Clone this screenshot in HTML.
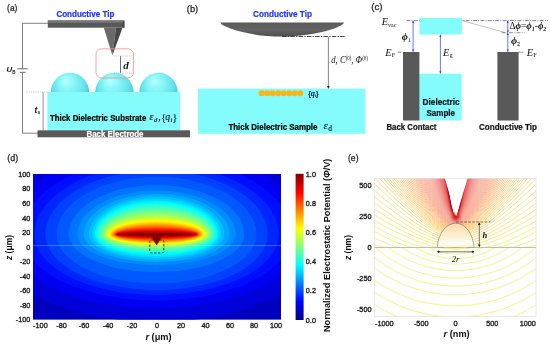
<!DOCTYPE html>
<html><head><meta charset="utf-8"><title>Figure</title>
<style>
html,body{margin:0;padding:0;background:#fff;}
svg{display:block}
.ss{font-family:'Liberation Sans', sans-serif;}
.sf{font-family:'Liberation Serif', serif;}
</style></head><body>
<svg width="550" height="345" viewBox="0 0 550 345">
<defs>
<radialGradient id="sph" cx="0.5" cy="0.35" r="0.6" fx="0.38" fy="0.2">
<stop offset="0" stop-color="#b8ffff"/><stop offset="0.35" stop-color="#86f6f8"/><stop offset="0.7" stop-color="#62e2e8"/><stop offset="0.92" stop-color="#46c6d0"/><stop offset="1" stop-color="#3cb6c1"/>
</radialGradient>
<linearGradient id="tipg" x1="0" y1="0" x2="0" y2="1"><stop offset="0" stop-color="#5a5a5a"/><stop offset="0.5" stop-color="#636363"/><stop offset="1" stop-color="#4e4e4e"/></linearGradient>
<linearGradient id="jetg" x1="0" y1="1" x2="0" y2="0">
<stop offset="0.000" stop-color="#000080"/><stop offset="0.062" stop-color="#0000bf"/><stop offset="0.125" stop-color="#0000ff"/><stop offset="0.188" stop-color="#0040ff"/><stop offset="0.250" stop-color="#0080ff"/><stop offset="0.312" stop-color="#00bfff"/><stop offset="0.375" stop-color="#00ffff"/><stop offset="0.438" stop-color="#40ffbf"/><stop offset="0.500" stop-color="#80ff80"/><stop offset="0.562" stop-color="#bfff40"/><stop offset="0.625" stop-color="#ffff00"/><stop offset="0.688" stop-color="#ffbf00"/><stop offset="0.750" stop-color="#ff8000"/><stop offset="0.812" stop-color="#ff4000"/><stop offset="0.875" stop-color="#ff0000"/><stop offset="0.938" stop-color="#bf0000"/><stop offset="1.000" stop-color="#800000"/>
</linearGradient>
<radialGradient id="apg" cx="0.5" cy="0.5" r="0.5"><stop offset="0" stop-color="#cc141c" stop-opacity="1"/><stop offset="0.35" stop-color="#d82828" stop-opacity="0.75"/><stop offset="0.7" stop-color="#e65050" stop-opacity="0.3"/><stop offset="1" stop-color="#ee7070" stop-opacity="0"/></radialGradient>
<linearGradient id="npg" x1="0" y1="0" x2="0" y2="1">
<stop offset="0" stop-color="#ffd9b0"/><stop offset="0.55" stop-color="#fff0cf"/><stop offset="0.85" stop-color="#ffffff"/><stop offset="1" stop-color="#fffbe0"/>
</linearGradient>
<clipPath id="cebelow"><rect x="374.5" y="247.5" width="161.5" height="69.1"/></clipPath>
</defs>
<rect width="550" height="345" fill="#fff"/>
<text class="ss" x="7.1" y="11.2" font-size="9.6" font-weight="normal" font-style="normal" fill="#1a1a1a" textLength="10.3" lengthAdjust="spacingAndGlyphs" stroke="#1a1a1a" stroke-width="0.25">(a)</text>
<text class="ss" x="56.4" y="17.3" font-size="9.2" font-weight="bold" font-style="normal" fill="#1a36ff" textLength="57.9" lengthAdjust="spacingAndGlyphs" stroke="#1a36ff" stroke-width="0.22">Conductive Tip</text>
<path d="M48.5 23.3H22.5V68.8M22.5 72.3V133.2H38" fill="none" stroke="#6a6a6a" stroke-width="0.85"/>
<path d="M17.4 68.8H27.8M19.7 72.3H25.8" fill="none" stroke="#5a5a5a" stroke-width="0.9"/>
<rect x="47.8" y="20.4" width="76.6" height="7.3" fill="#585858"/>
<path d="M47.8 20.4H124.4L122.6 22.7H47.8Z" fill="#787878"/>
<path d="M124.4 20.4V27.7H122.6V22.7Z" fill="#444"/>
<path d="M103.8 27.7H116L112.4 55.6Z" fill="#6a6a6a"/>
<path d="M116 27.7H122.5L112.4 55.6Z" fill="#474747"/>
<circle cx="70" cy="92" r="19.2" fill="url(#sph)"/>
<circle cx="114.4" cy="92" r="19.2" fill="url(#sph)"/>
<circle cx="158.5" cy="92" r="19.2" fill="url(#sph)"/>
<rect x="96" y="48.8" width="37.4" height="29.2" rx="5.5" ry="5.5" fill="none" stroke="#f48a8a" stroke-width="0.8"/>
<path d="M113.6 56H133M113.6 73H133" fill="none" stroke="#b5b5b5" stroke-width="0.7" stroke-dasharray="1.2 1"/>
<path d="M120.5 56.2V72.8" fill="none" stroke="#333" stroke-width="0.7"/>
<text class="sf" x="123.3" y="69.4" font-size="11" font-weight="bold" font-style="italic" fill="#111">d</text>
<rect x="47.4" y="92" width="132.8" height="38.5" fill="#84fcfc"/>
<rect x="37.5" y="130.3" width="152.5" height="7" fill="#595959"/>
<text class="ss" x="86.5" y="136.6" font-size="8.6" font-weight="bold" font-style="normal" fill="#fff" textLength="57.0" lengthAdjust="spacingAndGlyphs" stroke="#fff" stroke-width="0.22">Back Electrode</text>
<path d="M26.5 92H47.4" fill="none" stroke="#b0b0b0" stroke-width="0.7" stroke-dasharray="1.2 1"/>
<path d="M43.1 92.2V130.3" fill="none" stroke="#444" stroke-width="0.6"/>
<text class="ss" x="34.6" y="113" font-size="8.6" font-style="italic" font-weight="bold" fill="#111">t<tspan font-size="5" dy="1" font-style="normal">s</tspan></text>
<text class="ss" x="6.5" y="72" font-size="7.9" font-weight="bold" font-style="italic" fill="#111">U<tspan font-size="4.6" dy="1.8" font-style="normal">B</tspan></text>
<text class="ss" x="50.0" y="120.5" font-size="9" font-weight="bold" font-style="normal" fill="#000" textLength="96.3" lengthAdjust="spacingAndGlyphs" stroke="#000" stroke-width="0.22">Thick Dielectric Substrate</text>
<text class="sf" font-size="9.8" fill="#161c36" stroke="#161c36" stroke-width="0.2"><tspan x="149.4" y="120.3" font-style="italic">ε</tspan><tspan x="154" y="122.2" font-size="6.4" font-style="italic">d</tspan><tspan x="158.2" y="120.3">,</tspan><tspan x="161.2" y="120.6">{</tspan><tspan x="165.2" y="120.3" font-style="italic">q</tspan><tspan x="170.4" y="122.2" font-size="6.4" font-style="italic">i</tspan><tspan x="172.4" y="120.6">}</tspan></text>
<text class="ss" x="186.8" y="11.5" font-size="9.6" font-weight="normal" font-style="normal" fill="#1a1a1a" textLength="11.4" lengthAdjust="spacingAndGlyphs" stroke="#1a1a1a" stroke-width="0.25">(b)</text>
<text class="ss" x="253.0" y="17.0" font-size="9.2" font-weight="bold" font-style="normal" fill="#1a36ff" textLength="59.0" lengthAdjust="spacingAndGlyphs" stroke="#1a36ff" stroke-width="0.22">Conductive Tip</text>
<path d="M220.4 22.6H344C343.9 26.5 317.4 36.6 282.2 36.6C247 36.6 220.5 26.5 220.4 22.6Z" fill="url(#tipg)"/>
<path d="M282 36.5H346" fill="none" stroke="#222" stroke-width="0.85" stroke-dasharray="4.5 1.3 1.2 1.3"/>
<path d="M328.4 36.8V88" fill="none" stroke="#333" stroke-width="0.6"/>
<path d="M327 86L328.4 89.2L329.8 86Z" fill="#333"/>
<text class="sf" x="331.3" y="63" font-size="9.3" font-style="italic" fill="#111" textLength="36.5" lengthAdjust="spacingAndGlyphs">d, C<tspan font-size="5.2" dy="-3.4" font-style="normal">(0)</tspan><tspan dy="3.4">, Φ</tspan><tspan font-size="5.2" dy="-3.4" font-style="normal">(0)</tspan></text>
<rect x="198" y="88.6" width="167.5" height="45.2" fill="#84fcfc"/>
<circle cx="261.60" cy="93.2" r="3" fill="#fbb414"/>
<circle cx="267.12" cy="93.2" r="3" fill="#fbb414"/>
<circle cx="272.64" cy="93.2" r="3" fill="#fbb414"/>
<circle cx="278.16" cy="93.2" r="3" fill="#fbb414"/>
<circle cx="283.68" cy="93.2" r="3" fill="#fbb414"/>
<circle cx="289.20" cy="93.2" r="3" fill="#fbb414"/>
<circle cx="294.72" cy="93.2" r="3" fill="#fbb414"/>
<circle cx="300.24" cy="93.2" r="3" fill="#fbb414"/>
<text class="ss" x="308.2" y="95.8" font-size="6.8" font-weight="bold" fill="#1a2238" stroke="#1a2238" stroke-width="0.15" textLength="10.4" lengthAdjust="spacingAndGlyphs">{<tspan font-style="italic">q</tspan><tspan font-size="4" dy="1.2">i</tspan><tspan dy="-1.2">}</tspan></text>
<text class="ss" x="228.4" y="129.7" font-size="9" font-weight="bold" font-style="normal" fill="#000" textLength="89.1" lengthAdjust="spacingAndGlyphs" stroke="#000" stroke-width="0.22">Thick Dielectric Sample</text>
<text class="sf" font-size="11" fill="#1a2440" stroke="#1a2440" stroke-width="0.2"><tspan x="323.6" y="129.3" font-style="italic">ε</tspan><tspan x="328.2" y="130.9" font-size="7.6">d</tspan></text>
<text class="ss" x="371.2" y="10.0" font-size="9.6" font-weight="normal" font-style="normal" fill="#1a1a1a" textLength="11.3" lengthAdjust="spacingAndGlyphs" stroke="#1a1a1a" stroke-width="0.25">(c)</text>
<path d="M406.4 20.6H548" fill="none" stroke="#333" stroke-width="0.6" stroke-dasharray="4 1.2 1 1.2"/>
<rect x="419.5" y="17.9" width="42.4" height="16.6" fill="#84fcfc"/>
<rect x="419.2" y="73.7" width="42.5" height="46.8" fill="#84fcfc"/>
<rect x="403" y="52" width="16.4" height="68.5" fill="#595959"/>
<rect x="497.4" y="52" width="21.2" height="68.5" fill="#595959"/>
<path d="M462 20.6L505 32.5" fill="none" stroke="#999" stroke-width="0.6"/>
<path d="M501.7 32.7H524.6" fill="none" stroke="#444" stroke-width="0.6" stroke-dasharray="4 1.2 1 1.2"/>
<path d="M413.1 20.8V51.8" fill="none" stroke="#2a3cff" stroke-width="0.7"/>
<path d="M412.0 49.599999999999994L413.1 51.8L414.20000000000005 49.599999999999994Z" fill="#2a3cff"/>
<path d="M412.0 23.0L413.1 20.8L414.20000000000005 23.0Z" fill="#2a3cff"/>
<path d="M440.4 34.7V73.5" fill="none" stroke="#2a3cff" stroke-width="0.7"/>
<path d="M439.29999999999995 71.3L440.4 73.5L441.5 71.3Z" fill="#2a3cff"/>
<path d="M439.29999999999995 36.900000000000006L440.4 34.7L441.5 36.900000000000006Z" fill="#2a3cff"/>
<path d="M507.8 20.8V32.5" fill="none" stroke="#2a3cff" stroke-width="0.7"/>
<path d="M506.7 30.3L507.8 32.5L508.90000000000003 30.3Z" fill="#2a3cff"/>
<path d="M506.7 23.0L507.8 20.8L508.90000000000003 23.0Z" fill="#2a3cff"/>
<path d="M507.8 32.9V51.8" fill="none" stroke="#2a3cff" stroke-width="0.7"/>
<path d="M506.7 49.599999999999994L507.8 51.8L508.90000000000003 49.599999999999994Z" fill="#2a3cff"/>
<path d="M506.7 35.1L507.8 32.9L508.90000000000003 35.1Z" fill="#2a3cff"/>
<text class="sf" x="381.7" y="24.8" font-size="10.4" font-style="italic" fill="#111">E<tspan font-size="6" dy="1.8" font-style="normal">vac</tspan></text>
<text class="sf" x="401.8" y="40.3" font-size="10.5" font-style="italic" font-weight="bold" fill="#111">ϕ<tspan font-size="6" dy="1.2" font-style="normal" font-weight="normal">1</tspan></text>
<text class="sf" x="385.3" y="55.8" font-size="10.4" font-style="italic" fill="#111">E<tspan font-size="6.4" dy="0.9" font-style="normal">F</tspan></text>
<path d="M397.6 52.2H401.4" stroke="#333" stroke-width="0.6"/>
<text class="sf" x="443.1" y="55.8" font-size="10.4" font-style="italic" fill="#111">E<tspan font-size="6.4" dy="0.9" font-style="normal">g</tspan></text>
<text class="sf" x="509.4" y="29.3" font-size="9.4" fill="#111" textLength="37" lengthAdjust="spacingAndGlyphs">Δ<tspan font-style="italic" font-weight="bold">ϕ</tspan>=<tspan font-style="italic" font-weight="bold">ϕ</tspan><tspan font-size="6" dy="1.7" font-style="italic" font-weight="bold">1</tspan><tspan dy="-1.7">-</tspan><tspan font-style="italic" font-weight="bold">ϕ</tspan><tspan font-size="6" dy="1.7" font-style="italic" font-weight="bold">2</tspan></text>
<text class="sf" x="511" y="44.4" font-size="10.5" font-style="italic" font-weight="bold" fill="#111">ϕ<tspan font-size="6" dy="1.3" font-style="normal" font-weight="bold">2</tspan></text>
<path d="M518.6 52.2H523.5" stroke="#333" stroke-width="0.6" stroke-dasharray="2 0.8"/>
<text class="sf" x="526.8" y="56.2" font-size="10.4" font-style="italic" fill="#111">E<tspan font-size="6.4" dy="0.9" font-style="normal">F</tspan></text>
<text class="ss" x="422.6" y="105.0" font-size="9" font-weight="bold" font-style="normal" fill="#10121c" textLength="37.1" lengthAdjust="spacingAndGlyphs" stroke="#10121c" stroke-width="0.22">Dielectric</text>
<text class="ss" x="426.4" y="116.4" font-size="9" font-weight="bold" font-style="normal" fill="#10121c" textLength="28.7" lengthAdjust="spacingAndGlyphs" stroke="#10121c" stroke-width="0.22">Sample</text>
<text class="ss" x="386.4" y="129.7" font-size="9" font-weight="bold" font-style="normal" fill="#111" textLength="50.0" lengthAdjust="spacingAndGlyphs" stroke="#111" stroke-width="0.22">Back Contact</text>
<text class="ss" x="479.0" y="129.7" font-size="9" font-weight="bold" font-style="normal" fill="#111" textLength="58.0" lengthAdjust="spacingAndGlyphs" stroke="#111" stroke-width="0.22">Conductive Tip</text>
<text class="ss" x="7.2" y="161.0" font-size="9.6" font-weight="normal" font-style="normal" fill="#1a1a1a" textLength="11.0" lengthAdjust="spacingAndGlyphs" stroke="#1a1a1a" stroke-width="0.25">(d)</text>
<clipPath id="cd"><rect x="33" y="173.9" width="248" height="145.6"/></clipPath>
<g clip-path="url(#cd)">
<rect x="33" y="173.9" width="248" height="145.6" fill="#0000a6"/>
<path d="M-43.4 234.4A200.0 115.0 0 0 1 356.6 234.4A200.0 110.0 0 0 1 -43.4 234.4Z" fill="#0000bf"/>
<path d="M-12.6 234.4A169.2 96.5 0 0 1 325.8 234.4A169.2 87.7 0 0 1 -12.6 234.4Z" fill="#0000d9"/>
<path d="M6.6 234.4A150.0 85.0 0 0 1 306.6 234.4A150.0 74.0 0 0 1 6.6 234.4Z" fill="#0000f2"/>
<path d="M21.9 234.4A134.7 76.5 0 0 1 291.3 234.4A134.7 66.1 0 0 1 21.9 234.4Z" fill="#000dff"/>
<path d="M34.4 234.4A122.2 69.9 0 0 1 278.8 234.4A122.2 60.6 0 0 1 34.4 234.4Z" fill="#0026ff"/>
<path d="M45.4 234.4A111.2 64.0 0 0 1 267.8 234.4A111.2 55.6 0 0 1 45.4 234.4Z" fill="#0040ff"/>
<path d="M56.6 234.4A100.0 57.5 0 0 1 256.6 234.4A100.0 49.0 0 0 1 56.6 234.4Z" fill="#0059ff"/>
<path d="M68.8 234.4A87.8 49.3 0 0 1 244.4 234.4A87.8 37.7 0 0 1 68.8 234.4Z" fill="#0073ff"/>
<path d="M77.5 234.4A79.1 43.9 0 0 1 235.7 234.4A79.1 30.8 0 0 1 77.5 234.4Z" fill="#008cff"/>
<path d="M83.8 234.4A72.8 40.7 0 0 1 229.4 234.4A72.8 27.6 0 0 1 83.8 234.4Z" fill="#00a6ff"/>
<path d="M88.8 234.4A67.8 38.2 0 0 1 224.4 234.4A67.8 25.3 0 0 1 88.8 234.4Z" fill="#00bfff"/>
<path d="M92.4 234.4A64.2 36.0 0 0 1 220.8 234.4A64.2 23.4 0 0 1 92.4 234.4Z" fill="#00d9ff"/>
<path d="M94.7 234.4A61.9 33.7 0 0 1 218.5 234.4A61.9 21.5 0 0 1 94.7 234.4Z" fill="#00f2ff"/>
<path d="M96.5 234.4A60.1 31.7 0 0 1 216.7 234.4A60.1 19.7 0 0 1 96.5 234.4Z" fill="#0dfff2"/>
<path d="M98.0 234.4A58.6 29.8 0 0 1 215.2 234.4A58.6 18.2 0 0 1 98.0 234.4Z" fill="#26ffd9"/>
<path d="M99.3 234.4A57.3 27.9 0 0 1 213.9 234.4A57.3 16.8 0 0 1 99.3 234.4Z" fill="#40ffbf"/>
<path d="M100.6 234.4A56.0 26.0 0 0 1 212.6 234.4A56.0 15.5 0 0 1 100.6 234.4Z" fill="#59ffa6"/>
<path d="M102.0 234.4A54.6 24.0 0 0 1 211.2 234.4A54.6 14.4 0 0 1 102.0 234.4Z" fill="#73ff8c"/>
<path d="M103.3 234.4A53.3 21.9 0 0 1 209.9 234.4A53.3 13.3 0 0 1 103.3 234.4Z" fill="#8cff73"/>
<path d="M104.6 234.4A52.0 19.8 0 0 1 208.6 234.4A52.0 12.3 0 0 1 104.6 234.4Z" fill="#a6ff59"/>
<path d="M105.8 234.4A50.8 17.9 0 0 1 207.4 234.4A50.8 11.5 0 0 1 105.8 234.4Z" fill="#bfff40"/>
<path d="M106.9 234.4A49.7 16.3 0 0 1 206.3 234.4A49.7 10.7 0 0 1 106.9 234.4Z" fill="#d9ff26"/>
<path d="M107.9 234.4A48.7 14.9 0 0 1 205.3 234.4A48.7 9.9 0 0 1 107.9 234.4Z" fill="#f2ff0d"/>
<path d="M109.0 234.4A47.6 13.6 0 0 1 204.2 234.4A47.6 9.2 0 0 1 109.0 234.4Z" fill="#fff200"/>
<path d="M110.0 234.4A46.6 12.4 0 0 1 203.2 234.4A46.6 8.6 0 0 1 110.0 234.4Z" fill="#ffd900"/>
<path d="M111.0 234.4A45.6 11.3 0 0 1 202.2 234.4A45.6 8.0 0 0 1 111.0 234.4Z" fill="#ffbf00"/>
<path d="M111.9 234.4A44.7 10.3 0 0 1 201.3 234.4A44.7 7.4 0 0 1 111.9 234.4Z" fill="#ffa600"/>
<path d="M112.8 234.4A43.8 9.3 0 0 1 200.4 234.4A43.8 6.8 0 0 1 112.8 234.4Z" fill="#ff8c00"/>
<path d="M113.5 234.4A43.1 8.4 0 0 1 199.7 234.4A43.1 6.3 0 0 1 113.5 234.4Z" fill="#ff7300"/>
<path d="M114.2 234.4A42.4 7.5 0 0 1 199.0 234.4A42.4 5.7 0 0 1 114.2 234.4Z" fill="#ff5900"/>
<path d="M114.7 234.4A41.9 6.6 0 0 1 198.5 234.4A41.9 5.1 0 0 1 114.7 234.4Z" fill="#ff4000"/>
<path d="M115.2 234.4A41.4 5.8 0 0 1 198.0 234.4A41.4 4.6 0 0 1 115.2 234.4Z" fill="#ff2600"/>
<path d="M115.6 234.4A41.0 5.0 0 0 1 197.6 234.4A41.0 4.0 0 0 1 115.6 234.4Z" fill="#ff0d00"/>
<path d="M116.0 234.4A40.6 4.2 0 0 1 197.2 234.4A40.6 3.5 0 0 1 116.0 234.4Z" fill="#f20000"/>
<path d="M116.3 234.4A40.3 3.5 0 0 1 196.9 234.4A40.3 3.0 0 0 1 116.3 234.4Z" fill="#d90000"/>
<path d="M116.7 234.4A39.9 2.9 0 0 1 196.5 234.4A39.9 2.5 0 0 1 116.7 234.4Z" fill="#bf0000"/>
<path d="M150.6 235.4L156.6 245.4L162.6 235.4Z" fill="#8a0000"/>
<ellipse cx="156.6" cy="234.4" rx="39.5" ry="1.4" fill="#800000"/>
<path d="M33 245.6H281" stroke="#dfe6ff" stroke-opacity="0.5" stroke-width="0.6"/>
<rect x="149.8" y="240" width="14" height="13" rx="1.5" fill="none" stroke="#111" stroke-width="0.8" stroke-dasharray="2.4 1.5"/>
</g>
<text class="ss" x="30.4" y="176.9" font-size="7.3" font-weight="normal" font-style="normal" fill="#111" text-anchor="end" stroke="#111" stroke-width="0.3">100</text>
<text class="ss" x="30.4" y="191.4" font-size="7.3" font-weight="normal" font-style="normal" fill="#111" text-anchor="end" stroke="#111" stroke-width="0.3">80</text>
<text class="ss" x="30.4" y="205.9" font-size="7.3" font-weight="normal" font-style="normal" fill="#111" text-anchor="end" stroke="#111" stroke-width="0.3">60</text>
<text class="ss" x="30.4" y="220.5" font-size="7.3" font-weight="normal" font-style="normal" fill="#111" text-anchor="end" stroke="#111" stroke-width="0.3">40</text>
<text class="ss" x="30.4" y="235.0" font-size="7.3" font-weight="normal" font-style="normal" fill="#111" text-anchor="end" stroke="#111" stroke-width="0.3">20</text>
<text class="ss" x="30.4" y="249.5" font-size="7.3" font-weight="normal" font-style="normal" fill="#111" text-anchor="end" stroke="#111" stroke-width="0.3">0</text>
<text class="ss" x="30.4" y="264.0" font-size="7.3" font-weight="normal" font-style="normal" fill="#111" text-anchor="end" stroke="#111" stroke-width="0.3">-20</text>
<text class="ss" x="30.4" y="278.5" font-size="7.3" font-weight="normal" font-style="normal" fill="#111" text-anchor="end" stroke="#111" stroke-width="0.3">-40</text>
<text class="ss" x="30.4" y="293.1" font-size="7.3" font-weight="normal" font-style="normal" fill="#111" text-anchor="end" stroke="#111" stroke-width="0.3">-60</text>
<text class="ss" x="30.4" y="307.6" font-size="7.3" font-weight="normal" font-style="normal" fill="#111" text-anchor="end" stroke="#111" stroke-width="0.3">-80</text>
<text class="ss" x="30.4" y="322.1" font-size="7.3" font-weight="normal" font-style="normal" fill="#111" text-anchor="end" stroke="#111" stroke-width="0.3">-100</text>
<text class="ss" x="40.4" y="328.4" font-size="7.3" font-weight="normal" font-style="normal" fill="#111" text-anchor="middle" stroke="#111" stroke-width="0.3">-100</text>
<text class="ss" x="61.5" y="328.4" font-size="7.3" font-weight="normal" font-style="normal" fill="#111" text-anchor="middle" stroke="#111" stroke-width="0.3">-80</text>
<text class="ss" x="84.0" y="328.4" font-size="7.3" font-weight="normal" font-style="normal" fill="#111" text-anchor="middle" stroke="#111" stroke-width="0.3">-60</text>
<text class="ss" x="108.0" y="328.4" font-size="7.3" font-weight="normal" font-style="normal" fill="#111" text-anchor="middle" stroke="#111" stroke-width="0.3">-40</text>
<text class="ss" x="132.0" y="328.4" font-size="7.3" font-weight="normal" font-style="normal" fill="#111" text-anchor="middle" stroke="#111" stroke-width="0.3">-20</text>
<text class="ss" x="157.0" y="328.4" font-size="7.3" font-weight="normal" font-style="normal" fill="#111" text-anchor="middle" stroke="#111" stroke-width="0.3">0</text>
<text class="ss" x="181.0" y="328.4" font-size="7.3" font-weight="normal" font-style="normal" fill="#111" text-anchor="middle" stroke="#111" stroke-width="0.3">20</text>
<text class="ss" x="205.5" y="328.4" font-size="7.3" font-weight="normal" font-style="normal" fill="#111" text-anchor="middle" stroke="#111" stroke-width="0.3">40</text>
<text class="ss" x="230.0" y="328.4" font-size="7.3" font-weight="normal" font-style="normal" fill="#111" text-anchor="middle" stroke="#111" stroke-width="0.3">60</text>
<text class="ss" x="254.0" y="328.4" font-size="7.3" font-weight="normal" font-style="normal" fill="#111" text-anchor="middle" stroke="#111" stroke-width="0.3">80</text>
<text class="ss" x="276.0" y="328.4" font-size="7.3" font-weight="normal" font-style="normal" fill="#111" text-anchor="middle" stroke="#111" stroke-width="0.3">100</text>
<text class="ss" x="158.5" y="340.2" font-size="9.2" font-weight="bold" fill="#111" text-anchor="middle"><tspan font-style="italic">r</tspan> (μm)</text>
<text class="ss" transform="translate(12.2,247.5) rotate(-90)" font-size="8.5" font-weight="bold" fill="#111" text-anchor="middle"><tspan font-style="italic">z</tspan> (μm)</text>
<rect x="295.6" y="173.8" width="8" height="146.2" fill="url(#jetg)"/>
<text class="ss" x="305.8" y="176.6" font-size="7.3" font-weight="normal" font-style="normal" fill="#111" stroke="#111" stroke-width="0.3">1.0</text>
<text class="ss" x="305.8" y="205.8" font-size="7.3" font-weight="normal" font-style="normal" fill="#111" stroke="#111" stroke-width="0.3">0.8</text>
<text class="ss" x="305.8" y="235.0" font-size="7.3" font-weight="normal" font-style="normal" fill="#111" stroke="#111" stroke-width="0.3">0.6</text>
<text class="ss" x="305.8" y="264.2" font-size="7.3" font-weight="normal" font-style="normal" fill="#111" stroke="#111" stroke-width="0.3">0.4</text>
<text class="ss" x="305.8" y="293.4" font-size="7.3" font-weight="normal" font-style="normal" fill="#111" stroke="#111" stroke-width="0.3">0.2</text>
<text class="ss" x="305.8" y="322.6" font-size="7.3" font-weight="normal" font-style="normal" fill="#111" stroke="#111" stroke-width="0.3">0.0</text>
<text class="ss" transform="translate(330,245.3) rotate(-90)" font-size="8.5" font-weight="bold" fill="#111" text-anchor="middle" textLength="173.5" lengthAdjust="spacingAndGlyphs">Normalized Electrostatic Potential (<tspan font-style="italic">Φ</tspan>/V)</text>
<text class="ss" x="348.0" y="161.0" font-size="9.6" font-weight="normal" font-style="normal" fill="#1a1a1a" textLength="10.5" lengthAdjust="spacingAndGlyphs" stroke="#1a1a1a" stroke-width="0.25">(e)</text>
<clipPath id="ce"><rect x="374.5" y="178.6" width="161.5" height="138.00000000000003"/></clipPath>
<g clip-path="url(#ce)" fill="none" stroke-width="0.85">
<polyline points="363.5,242.5 365.0,243.1 366.4,243.7 367.9,244.4 369.4,245.0 370.8,245.6 372.3,246.2 373.7,246.9 375.2,247.5 378.7,250.5 382.2,253.2 385.7,255.8 389.2,258.2 392.7,260.4 396.1,262.4 399.6,264.3 403.1,266.1 406.6,267.7 410.1,269.2 413.6,270.5 417.1,271.7 420.6,272.9 424.1,273.8 427.6,274.7 431.1,275.5 434.6,276.2 438.0,276.7 441.5,277.2 445.0,277.5 448.5,277.8 452.0,278.0 455.5,278.0 459.0,278.0 462.5,277.8 466.0,277.5 469.5,277.2 473.0,276.7 476.4,276.2 479.9,275.5 483.4,274.7 486.9,273.8 490.4,272.9 493.9,271.7 497.4,270.5 500.9,269.2 504.4,267.7 507.9,266.1 511.4,264.3 514.9,262.4 518.3,260.4 521.8,258.2 525.3,255.8 528.8,253.2 532.3,250.5 535.8,247.5 537.3,246.9 538.7,246.2 540.2,245.6 541.6,245.0 543.1,244.4 544.6,243.7 546.0,243.1 547.5,242.5" stroke="#f0f370"/>
<polyline points="363.5,241.8 366.6,242.8 369.8,243.8 372.9,244.7 376.1,245.5 379.2,246.2 382.3,246.8 385.5,247.2 388.6,247.5 391.5,249.7 394.4,251.7 397.3,253.7 400.2,255.4 403.1,257.1 406.1,258.6 409.0,260.1 411.9,261.4 414.8,262.6 417.7,263.8 420.6,264.8 423.5,265.7 426.4,266.6 429.3,267.4 432.2,268.0 435.1,268.6 438.0,269.1 441.0,269.6 443.9,269.9 446.8,270.2 449.7,270.4 452.6,270.5 455.5,270.6 458.4,270.5 461.3,270.4 464.2,270.2 467.1,269.9 470.0,269.6 473.0,269.1 475.9,268.6 478.8,268.0 481.7,267.4 484.6,266.6 487.5,265.7 490.4,264.8 493.3,263.8 496.2,262.6 499.1,261.4 502.0,260.1 504.9,258.6 507.9,257.1 510.8,255.4 513.7,253.7 516.6,251.7 519.5,249.7 522.4,247.5 525.5,247.2 528.7,246.8 531.8,246.2 535.0,245.5 538.1,244.7 541.2,243.8 544.4,242.8 547.5,241.8" stroke="#f1f26d"/>
<polyline points="363.5,231.6 368.3,234.5 373.1,237.2 377.9,239.6 382.8,241.9 387.6,243.8 392.4,245.5 397.2,246.8 402.0,247.5 404.3,249.0 406.7,250.5 409.0,251.8 411.3,253.1 413.6,254.3 416.0,255.4 418.3,256.4 420.6,257.4 422.9,258.3 425.3,259.1 427.6,259.8 429.9,260.5 432.2,261.2 434.6,261.7 436.9,262.2 439.2,262.6 441.5,263.0 443.9,263.3 446.2,263.6 448.5,263.8 450.8,263.9 453.2,264.0 455.5,264.1 457.8,264.0 460.2,263.9 462.5,263.8 464.8,263.6 467.1,263.3 469.5,263.0 471.8,262.6 474.1,262.2 476.4,261.7 478.8,261.2 481.1,260.5 483.4,259.8 485.7,259.1 488.1,258.3 490.4,257.4 492.7,256.4 495.0,255.4 497.4,254.3 499.7,253.1 502.0,251.8 504.3,250.5 506.7,249.0 509.0,247.5 513.8,246.8 518.6,245.5 523.4,243.8 528.2,241.9 533.1,239.6 537.9,237.2 542.7,234.5 547.5,231.6" stroke="#f2f16b"/>
<polyline points="363.5,224.3 370.0,228.5 376.5,232.5 383.0,236.1 389.4,239.3 395.9,242.2 402.4,244.6 408.9,246.5 415.4,247.5 417.1,248.5 418.9,249.5 420.6,250.3 422.4,251.2 424.1,252.0 425.9,252.7 427.6,253.4 429.3,254.0 431.1,254.6 432.8,255.2 434.6,255.7 436.3,256.1 438.1,256.5 439.8,256.9 441.6,257.2 443.3,257.5 445.0,257.8 446.8,258.0 448.5,258.2 450.3,258.3 452.0,258.4 453.8,258.5 455.5,258.5 457.2,258.5 459.0,258.4 460.7,258.3 462.5,258.2 464.2,258.0 466.0,257.8 467.7,257.5 469.4,257.2 471.2,256.9 472.9,256.5 474.7,256.1 476.4,255.7 478.2,255.2 479.9,254.6 481.7,254.0 483.4,253.4 485.1,252.7 486.9,252.0 488.6,251.2 490.4,250.3 492.1,249.5 493.9,248.5 495.6,247.5 502.1,246.5 508.6,244.6 515.1,242.2 521.5,239.3 528.0,236.1 534.5,232.5 541.0,228.5 547.5,224.3" stroke="#f3f068"/>
<polyline points="363.5,219.3 371.6,224.4 379.6,229.2 387.7,233.6 395.8,237.5 403.9,241.0 411.9,244.0 420.0,246.3 428.1,247.5 429.3,248.1 430.5,248.7 431.7,249.2 432.9,249.7 434.1,250.1 435.2,250.6 436.4,251.0 437.6,251.4 438.8,251.7 440.0,252.1 441.2,252.4 442.4,252.7 443.6,252.9 444.8,253.1 446.0,253.3 447.2,253.5 448.4,253.7 449.5,253.8 450.7,253.9 451.9,254.0 453.1,254.1 454.3,254.1 455.5,254.1 456.7,254.1 457.9,254.1 459.1,254.0 460.3,253.9 461.5,253.8 462.6,253.7 463.8,253.5 465.0,253.3 466.2,253.1 467.4,252.9 468.6,252.7 469.8,252.4 471.0,252.1 472.2,251.7 473.4,251.4 474.6,251.0 475.8,250.6 476.9,250.1 478.1,249.7 479.3,249.2 480.5,248.7 481.7,248.1 482.9,247.5 491.0,246.3 499.1,244.0 507.1,241.0 515.2,237.5 523.3,233.6 531.4,229.2 539.4,224.4 547.5,219.3" stroke="#f4ee67"/>
<polyline points="365.5,216.0 375.5,221.5 385.5,226.7 395.5,231.7 405.5,236.3 415.5,240.5 419.5,242.0 423.5,243.4 427.5,244.7 431.5,245.8 435.5,246.8 439.5,247.6 443.5,248.3 445.0,248.5 446.5,248.7 448.0,248.8 449.5,248.9 451.0,249.0 452.5,249.1 454.0,249.1 455.5,249.2 457.0,249.1 458.5,249.1 460.0,249.0 461.5,248.9 463.0,248.8 464.5,248.7 466.0,248.5 467.5,248.3 471.5,247.6 475.5,246.8 479.5,245.8 483.5,244.7 487.5,243.4 491.5,242.0 495.5,240.5 505.5,236.3 515.5,231.7 525.5,226.7 535.5,221.5 545.5,216.0" stroke="#f6ea64"/>
<polyline points="365.5,209.5 375.5,215.6 385.5,221.5 395.5,227.1 405.5,232.3 415.5,236.9 419.5,238.6 423.5,240.2 427.5,241.7 431.5,242.9 435.5,244.1 439.5,245.0 443.5,245.8 445.0,246.0 446.5,246.2 448.0,246.4 449.5,246.5 451.0,246.6 452.5,246.7 454.0,246.7 455.5,246.8 457.0,246.7 458.5,246.7 460.0,246.6 461.5,246.5 463.0,246.4 464.5,246.2 466.0,246.0 467.5,245.8 471.5,245.0 475.5,244.1 479.5,242.9 483.5,241.7 487.5,240.2 491.5,238.6 495.5,236.9 505.5,232.3 515.5,227.1 525.5,221.5 535.5,215.6 545.5,209.5" stroke="#f7e866"/>
<polyline points="365.5,202.9 375.5,209.7 385.5,216.2 395.5,222.4 405.5,228.2 415.5,233.4 419.5,235.3 423.5,237.1 427.5,238.7 431.5,240.2 435.5,241.5 439.5,242.5 443.5,243.4 445.0,243.6 446.5,243.9 448.0,244.1 449.5,244.2 451.0,244.3 452.5,244.4 454.0,244.5 455.5,244.5 457.0,244.5 458.5,244.4 460.0,244.3 461.5,244.2 463.0,244.1 464.5,243.9 466.0,243.6 467.5,243.4 471.5,242.5 475.5,241.5 479.5,240.2 483.5,238.7 487.5,237.1 491.5,235.3 495.5,233.4 505.5,228.2 515.5,222.4 525.5,216.2 535.5,209.7 545.5,202.9" stroke="#f7e569"/>
<polyline points="365.5,196.2 375.5,203.6 385.5,210.8 395.5,217.7 405.5,224.1 415.5,230.0 419.5,232.1 423.5,234.1 427.5,235.9 431.5,237.5 435.5,239.0 439.5,240.2 443.5,241.1 445.0,241.4 446.5,241.7 448.0,241.9 449.5,242.1 451.0,242.2 452.5,242.3 454.0,242.4 455.5,242.4 457.0,242.4 458.5,242.3 460.0,242.2 461.5,242.1 463.0,241.9 464.5,241.7 466.0,241.4 467.5,241.1 471.5,240.2 475.5,239.0 479.5,237.5 483.5,235.9 487.5,234.1 491.5,232.1 495.5,230.0 505.5,224.1 515.5,217.7 525.5,210.8 535.5,203.6 545.5,196.2" stroke="#f8e26c"/>
<polyline points="365.5,189.3 375.5,197.5 385.5,205.4 395.5,212.9 405.5,220.1 415.5,226.5 419.5,228.9 423.5,231.1 427.5,233.1 431.5,235.0 435.5,236.6 439.5,237.9 443.5,239.0 445.0,239.3 446.5,239.6 448.0,239.9 449.5,240.1 451.0,240.2 452.5,240.3 454.0,240.4 455.5,240.4 457.0,240.4 458.5,240.3 460.0,240.2 461.5,240.1 463.0,239.9 464.5,239.6 466.0,239.3 467.5,239.0 471.5,237.9 475.5,236.6 479.5,235.0 483.5,233.1 487.5,231.1 491.5,228.9 495.5,226.5 505.5,220.1 515.5,212.9 525.5,205.4 535.5,197.5 545.5,189.3" stroke="#f9df6f"/>
<polyline points="365.5,182.2 375.5,191.2 385.5,199.8 395.5,208.1 405.5,216.0 415.5,223.1 419.5,225.7 423.5,228.2 427.5,230.5 431.5,232.5 435.5,234.3 439.5,235.8 443.5,237.0 445.0,237.4 446.5,237.7 448.0,238.0 449.5,238.2 451.0,238.4 452.5,238.5 454.0,238.6 455.5,238.6 457.0,238.6 458.5,238.5 460.0,238.4 461.5,238.2 463.0,238.0 464.5,237.7 466.0,237.4 467.5,237.0 471.5,235.8 475.5,234.3 479.5,232.5 483.5,230.5 487.5,228.2 491.5,225.7 495.5,223.1 505.5,216.0 515.5,208.1 525.5,199.8 535.5,191.2 545.5,182.2" stroke="#f9dc72"/>
<polyline points="365.5,175.0 375.5,184.7 385.5,194.2 395.5,203.3 405.5,211.8 415.5,219.7 419.5,222.6 423.5,225.3 427.5,227.8 431.5,230.1 435.5,232.1 439.5,233.8 443.5,235.2 445.0,235.6 446.5,235.9 448.0,236.2 449.5,236.5 451.0,236.7 452.5,236.8 454.0,236.9 455.5,237.0 457.0,236.9 458.5,236.8 460.0,236.7 461.5,236.5 463.0,236.2 464.5,235.9 466.0,235.6 467.5,235.2 471.5,233.8 475.5,232.1 479.5,230.1 483.5,227.8 487.5,225.3 491.5,222.6 495.5,219.7 505.5,211.8 515.5,203.3 525.5,194.2 535.5,184.7 545.5,175.0" stroke="#fada75"/>
<polyline points="365.5,168.6 375.5,179.1 385.5,189.2 395.5,199.0 405.5,208.2 415.5,216.8 419.5,219.9 423.5,222.9 427.5,225.6 431.5,228.1 435.5,230.3 439.5,232.1 443.5,233.6 445.0,234.1 446.5,234.5 448.0,234.8 449.5,235.1 451.0,235.3 452.5,235.5 454.0,235.6 455.5,235.6 457.0,235.6 458.5,235.5 460.0,235.3 461.5,235.1 463.0,234.8 464.5,234.5 466.0,234.1 467.5,233.6 471.5,232.1 475.5,230.3 479.5,228.1 483.5,225.6 487.5,222.9 491.5,219.9 495.5,216.8 505.5,208.2 515.5,199.0 525.5,189.2 535.5,179.1 545.5,168.6" stroke="#fad776"/>
<polyline points="365.5,163.0 375.5,174.0 385.5,184.8 395.5,195.2 405.5,205.1 415.5,214.2 419.5,217.6 423.5,220.8 427.5,223.7 431.5,226.4 435.5,228.7 439.5,230.8 443.5,232.4 445.0,232.9 446.5,233.3 448.0,233.7 449.5,234.0 451.0,234.2 452.5,234.4 454.0,234.5 455.5,234.5 457.0,234.5 458.5,234.4 460.0,234.2 461.5,234.0 463.0,233.7 464.5,233.3 466.0,232.9 467.5,232.4 471.5,230.8 475.5,228.7 479.5,226.4 483.5,223.7 487.5,220.8 491.5,217.6 495.5,214.2 505.5,205.1 515.5,195.2 525.5,184.8 535.5,174.0 545.5,163.0" stroke="#fad577"/>
<polyline points="375.5,169.6 385.5,180.9 395.5,191.9 405.5,202.3 415.5,212.0 419.5,215.6 423.5,218.9 427.5,222.1 431.5,224.9 435.5,227.4 439.5,229.6 443.5,231.3 445.0,231.9 446.5,232.3 448.0,232.7 449.5,233.1 451.0,233.3 452.5,233.5 454.0,233.6 455.5,233.7 457.0,233.6 458.5,233.5 460.0,233.3 461.5,233.1 463.0,232.7 464.5,232.3 466.0,231.9 467.5,231.3 471.5,229.6 475.5,227.4 479.5,224.9 483.5,222.1 487.5,218.9 491.5,215.6 495.5,212.0 505.5,202.3 515.5,191.9 525.5,180.9 535.5,169.6" stroke="#fad377"/>
<polyline points="375.5,165.7 385.5,177.5 395.5,189.0 405.5,199.9 415.5,210.1 419.5,213.8 423.5,217.4 427.5,220.7 431.5,223.7 435.5,226.3 439.5,228.6 443.5,230.5 445.0,231.0 446.5,231.5 448.0,232.0 449.5,232.3 451.0,232.6 452.5,232.8 454.0,232.9 455.5,232.9 457.0,232.9 458.5,232.8 460.0,232.6 461.5,232.3 463.0,232.0 464.5,231.5 466.0,231.0 467.5,230.5 471.5,228.6 475.5,226.3 479.5,223.7 483.5,220.7 487.5,217.4 491.5,213.8 495.5,210.1 505.5,199.9 515.5,189.0 525.5,177.5 535.5,165.7" stroke="#fad177"/>
<polyline points="375.5,162.0 385.5,174.3 395.5,186.3 405.5,197.6 415.5,208.2 419.5,212.2 423.5,215.9 427.5,219.4 431.5,222.5 435.5,225.3 439.5,227.7 443.5,229.7 445.0,230.3 446.5,230.8 448.0,231.2 449.5,231.6 451.0,231.9 452.5,232.1 454.0,232.2 455.5,232.3 457.0,232.2 458.5,232.1 460.0,231.9 461.5,231.6 463.0,231.2 464.5,230.8 466.0,230.3 467.5,229.7 471.5,227.7 475.5,225.3 479.5,222.5 483.5,219.4 487.5,215.9 491.5,212.2 495.5,208.2 505.5,197.6 515.5,186.3 525.5,174.3 535.5,162.0" stroke="#facf78"/>
<polyline points="385.5,171.1 395.5,183.5 405.5,195.3 415.5,206.4 419.5,210.5 423.5,214.4 427.5,218.0 431.5,221.4 435.5,224.3 439.5,226.8 443.5,228.9 445.0,229.5 446.5,230.1 448.0,230.6 449.5,231.0 451.0,231.3 452.5,231.5 454.0,231.6 455.5,231.7 457.0,231.6 458.5,231.5 460.0,231.3 461.5,231.0 463.0,230.6 464.5,230.1 466.0,229.5 467.5,228.9 471.5,226.8 475.5,224.3 479.5,221.4 483.5,218.0 487.5,214.4 491.5,210.5 495.5,206.4 505.5,195.3 515.5,183.5 525.5,171.1" stroke="#face78"/>
<polyline points="385.5,167.7 395.5,180.6 405.5,193.0 415.5,204.5 419.5,208.8 423.5,212.9 427.5,216.7 431.5,220.2 435.5,223.3 439.5,226.0 443.5,228.1 445.0,228.8 446.5,229.4 448.0,229.9 449.5,230.3 451.0,230.6 452.5,230.9 454.0,231.0 455.5,231.1 457.0,231.0 458.5,230.9 460.0,230.6 461.5,230.3 463.0,229.9 464.5,229.4 466.0,228.8 467.5,228.1 471.5,226.0 475.5,223.3 479.5,220.2 483.5,216.7 487.5,212.9 491.5,208.8 495.5,204.5 505.5,193.0 515.5,180.6 525.5,167.7" stroke="#facc78"/>
<polyline points="385.5,164.3 395.5,177.7 405.5,190.6 415.5,202.6 419.5,207.1 423.5,211.4 427.5,215.4 431.5,219.0 435.5,222.3 439.5,225.1 443.5,227.4 445.0,228.1 446.5,228.7 448.0,229.2 449.5,229.7 451.0,230.0 452.5,230.3 454.0,230.4 455.5,230.5 457.0,230.4 458.5,230.3 460.0,230.0 461.5,229.7 463.0,229.2 464.5,228.7 466.0,228.1 467.5,227.4 471.5,225.1 475.5,222.3 479.5,219.0 483.5,215.4 487.5,211.4 491.5,207.1 495.5,202.6 505.5,190.6 515.5,177.7 525.5,164.3" stroke="#fac979"/>
<polyline points="385.5,160.8 395.5,174.8 405.5,188.1 415.5,200.7 419.5,205.4 423.5,209.9 427.5,214.0 431.5,217.9 435.5,221.3 439.5,224.3 443.5,226.7 445.0,227.4 446.5,228.1 448.0,228.6 449.5,229.1 451.0,229.4 452.5,229.7 454.0,229.9 455.5,229.9 457.0,229.9 458.5,229.7 460.0,229.4 461.5,229.1 463.0,228.6 464.5,228.1 466.0,227.4 467.5,226.7 471.5,224.3 475.5,221.3 479.5,217.9 483.5,214.0 487.5,209.9 491.5,205.4 495.5,200.7 505.5,188.1 515.5,174.8 525.5,160.8" stroke="#fac77a"/>
<polyline points="395.5,171.7 405.5,185.6 415.5,198.7 419.5,203.6 423.5,208.3 427.5,212.7 431.5,216.7 435.5,220.3 439.5,223.4 443.5,225.9 445.0,226.7 446.5,227.4 448.0,228.0 449.5,228.5 451.0,228.9 452.5,229.1 454.0,229.3 455.5,229.4 457.0,229.3 458.5,229.1 460.0,228.9 461.5,228.5 463.0,228.0 464.5,227.4 466.0,226.7 467.5,225.9 471.5,223.4 475.5,220.3 479.5,216.7 483.5,212.7 487.5,208.3 491.5,203.6 495.5,198.7 505.5,185.6 515.5,171.7" stroke="#fac47a"/>
<polyline points="395.5,168.6 405.5,183.1 415.5,196.7 419.5,201.8 423.5,206.7 427.5,211.3 431.5,215.5 435.5,219.3 439.5,222.6 443.5,225.2 445.0,226.1 446.5,226.8 448.0,227.4 449.5,227.9 451.0,228.3 452.5,228.6 454.0,228.8 455.5,228.8 457.0,228.8 458.5,228.6 460.0,228.3 461.5,227.9 463.0,227.4 464.5,226.8 466.0,226.1 467.5,225.2 471.5,222.6 475.5,219.3 479.5,215.5 483.5,211.3 487.5,206.7 491.5,201.8 495.5,196.7 505.5,183.1 515.5,168.6" stroke="#f9c27b"/>
<polyline points="395.5,165.5 405.5,180.5 415.5,194.7 419.5,200.0 423.5,205.1 427.5,209.9 431.5,214.3 435.5,218.3 439.5,221.7 443.5,224.5 445.0,225.4 446.5,226.2 448.0,226.8 449.5,227.4 451.0,227.8 452.5,228.1 454.0,228.3 455.5,228.3 457.0,228.3 458.5,228.1 460.0,227.8 461.5,227.4 463.0,226.8 464.5,226.2 466.0,225.4 467.5,224.5 471.5,221.7 475.5,218.3 479.5,214.3 483.5,209.9 487.5,205.1 491.5,200.0 495.5,194.7 505.5,180.5 515.5,165.5" stroke="#f9c07b"/>
<polyline points="395.5,162.2 405.5,177.8 415.5,192.6 419.5,198.2 423.5,203.5 427.5,208.5 431.5,213.1 435.5,217.2 439.5,220.9 443.5,223.8 445.0,224.7 446.5,225.6 448.0,226.3 449.5,226.8 451.0,227.3 452.5,227.6 454.0,227.8 455.5,227.9 457.0,227.8 458.5,227.6 460.0,227.3 461.5,226.8 463.0,226.3 464.5,225.6 466.0,224.7 467.5,223.8 471.5,220.9 475.5,217.2 479.5,213.1 483.5,208.5 487.5,203.5 491.5,198.2 495.5,192.6 505.5,177.8 515.5,162.2" stroke="#f9bd7c"/>
<polyline points="395.5,158.9 405.5,175.1 415.5,190.5 419.5,196.3 423.5,201.8 427.5,207.0 431.5,211.9 435.5,216.2 439.5,220.0 443.5,223.1 445.0,224.1 446.5,225.0 448.0,225.7 449.5,226.3 451.0,226.8 452.5,227.1 454.0,227.3 455.5,227.4 457.0,227.3 458.5,227.1 460.0,226.8 461.5,226.3 463.0,225.7 464.5,225.0 466.0,224.1 467.5,223.1 471.5,220.0 475.5,216.2 479.5,211.9 483.5,207.0 487.5,201.8 491.5,196.3 495.5,190.5 505.5,175.1 515.5,158.9" stroke="#f9bb7d"/>
<polyline points="405.5,172.3 415.5,188.3 419.5,194.3 423.5,200.1 427.5,205.5 431.5,210.6 435.5,215.2 439.5,219.2 443.5,222.4 445.0,223.5 446.5,224.4 448.0,225.1 449.5,225.8 451.0,226.3 452.5,226.7 454.0,226.9 455.5,226.9 457.0,226.9 458.5,226.7 460.0,226.3 461.5,225.8 463.0,225.1 464.5,224.4 466.0,223.5 467.5,222.4 471.5,219.2 475.5,215.2 479.5,210.6 483.5,205.5 487.5,200.1 491.5,194.3 495.5,188.3 505.5,172.3" stroke="#f9b97d"/>
<polyline points="405.5,169.4 415.5,186.0 419.5,192.3 423.5,198.4 427.5,204.0 431.5,209.3 435.5,214.1 439.5,218.3 443.5,221.8 445.0,222.8 446.5,223.8 448.0,224.6 449.5,225.3 451.0,225.8 452.5,226.2 454.0,226.4 455.5,226.5 457.0,226.4 458.5,226.2 460.0,225.8 461.5,225.3 463.0,224.6 464.5,223.8 466.0,222.8 467.5,221.8 471.5,218.3 475.5,214.1 479.5,209.3 483.5,204.0 487.5,198.4 491.5,192.3 495.5,186.0 505.5,169.4" stroke="#f9b67f"/>
<polyline points="405.5,166.5 415.5,183.8 419.5,190.3 423.5,196.6 427.5,202.5 431.5,208.0 435.5,213.1 439.5,217.5 443.5,221.1 445.0,222.2 446.5,223.2 448.0,224.1 449.5,224.8 451.0,225.4 452.5,225.8 454.0,226.0 455.5,226.1 457.0,226.0 458.5,225.8 460.0,225.4 461.5,224.8 463.0,224.1 464.5,223.2 466.0,222.2 467.5,221.1 471.5,217.5 475.5,213.1 479.5,208.0 483.5,202.5 487.5,196.6 491.5,190.3 495.5,183.8 505.5,166.5" stroke="#f8b480"/>
<polyline points="405.5,163.5 415.5,181.4 419.5,188.2 423.5,194.8 427.5,201.0 431.5,206.7 435.5,212.0 439.5,216.6 443.5,220.4 445.0,221.6 446.5,222.7 448.0,223.6 449.5,224.3 451.0,224.9 452.5,225.3 454.0,225.6 455.5,225.7 457.0,225.6 458.5,225.3 460.0,224.9 461.5,224.3 463.0,223.6 464.5,222.7 466.0,221.6 467.5,220.4 471.5,216.6 475.5,212.0 479.5,206.7 483.5,201.0 487.5,194.8 491.5,188.2 495.5,181.4 505.5,163.5" stroke="#f8b281"/>
<polyline points="405.5,160.4 415.5,179.0 419.5,186.1 423.5,192.9 427.5,199.4 431.5,205.4 435.5,210.9 439.5,215.7 443.5,219.7 445.0,221.0 446.5,222.1 448.0,223.1 449.5,223.9 451.0,224.5 452.5,224.9 454.0,225.2 455.5,225.3 457.0,225.2 458.5,224.9 460.0,224.5 461.5,223.9 463.0,223.1 464.5,222.1 466.0,221.0 467.5,219.7 471.5,215.7 475.5,210.9 479.5,205.4 483.5,199.4 487.5,192.9 491.5,186.1 495.5,179.0 505.5,160.4" stroke="#f8af83"/>
<polyline points="405.5,157.3 415.5,176.5 419.5,183.9 423.5,191.0 427.5,197.7 431.5,204.0 435.5,209.8 439.5,214.8 443.5,219.1 445.0,220.4 446.5,221.6 448.0,222.6 449.5,223.4 451.0,224.1 452.5,224.5 454.0,224.8 455.5,224.9 457.0,224.8 458.5,224.5 460.0,224.1 461.5,223.4 463.0,222.6 464.5,221.6 466.0,220.4 467.5,219.1 471.5,214.8 475.5,209.8 479.5,204.0 483.5,197.7 487.5,191.0 491.5,183.9 495.5,176.5 505.5,157.3" stroke="#f8ad84"/>
<polyline points="405.5,154.0 415.5,174.0 419.5,181.7 423.5,189.0 427.5,196.0 431.5,202.6 435.5,208.6 439.5,213.9 443.5,218.4 445.0,219.8 446.5,221.0 448.0,222.1 449.5,223.0 451.0,223.7 452.5,224.2 454.0,224.5 455.5,224.6 457.0,224.5 458.5,224.2 460.0,223.7 461.5,223.0 463.0,222.1 464.5,221.0 466.0,219.8 467.5,218.4 471.5,213.9 475.5,208.6 479.5,202.6 483.5,196.0 487.5,189.0 491.5,181.7 495.5,174.0 505.5,154.0" stroke="#f7ab85"/>
<polyline points="415.5,171.4 419.5,179.4 423.5,187.0 427.5,194.3 431.5,201.2 435.5,207.5 439.5,213.0 443.5,217.7 445.0,219.2 446.5,220.5 448.0,221.6 449.5,222.5 451.0,223.3 452.5,223.8 454.0,224.1 455.5,224.2 457.0,224.1 458.5,223.8 460.0,223.3 461.5,222.5 463.0,221.6 464.5,220.5 466.0,219.2 467.5,217.7 471.5,213.0 475.5,207.5 479.5,201.2 483.5,194.3 487.5,187.0 491.5,179.4 495.5,171.4" stroke="#f7a887"/>
<polyline points="415.5,168.8 419.5,177.0 423.5,185.0 427.5,192.6 431.5,199.7 435.5,206.3 439.5,212.1 443.5,217.0 445.0,218.5 446.5,219.9 448.0,221.1 449.5,222.1 451.0,222.9 452.5,223.4 454.0,223.8 455.5,223.9 457.0,223.8 458.5,223.4 460.0,222.9 461.5,222.1 463.0,221.1 464.5,219.9 466.0,218.5 467.5,217.0 471.5,212.1 475.5,206.3 479.5,199.7 483.5,192.6 487.5,185.0 491.5,177.0 495.5,168.8" stroke="#f7a889"/>
<polyline points="415.5,166.0 419.5,174.6 423.5,182.8 427.5,190.8 431.5,198.2 435.5,205.1 439.5,211.2 443.5,216.3 445.0,217.9 446.5,219.4 448.0,220.6 449.5,221.7 451.0,222.5 452.5,223.1 454.0,223.4 455.5,223.5 457.0,223.4 458.5,223.1 460.0,222.5 461.5,221.7 463.0,220.6 464.5,219.4 466.0,217.9 467.5,216.3 471.5,211.2 475.5,205.1 479.5,198.2 483.5,190.8 487.5,182.8 491.5,174.6 495.5,166.0" stroke="#f7a98b"/>
<polyline points="419.5,172.1 423.5,180.7 427.5,188.9 431.5,196.7 435.5,203.8 439.5,210.2 443.5,215.6 445.0,217.3 446.5,218.8 448.0,220.1 449.5,221.2 451.0,222.1 452.5,222.7 454.0,223.1 455.5,223.2 457.0,223.1 458.5,222.7 460.0,222.1 461.5,221.2 463.0,220.1 464.5,218.8 466.0,217.3 467.5,215.6 471.5,210.2 475.5,203.8 479.5,196.7 483.5,188.9 487.5,180.7 491.5,172.1" stroke="#f7aa8d"/>
<polyline points="419.5,169.5 423.5,178.4 427.5,187.0 431.5,195.1 435.5,202.6 439.5,209.2 443.5,214.9 445.0,216.7 446.5,218.3 448.0,219.7 449.5,220.8 451.0,221.7 452.5,222.4 454.0,222.8 455.5,222.9 457.0,222.8 458.5,222.4 460.0,221.7 461.5,220.8 463.0,219.7 464.5,218.3 466.0,216.7 467.5,214.9 471.5,209.2 475.5,202.6 479.5,195.1 483.5,187.0 487.5,178.4 491.5,169.5" stroke="#f7aa90"/>
<polyline points="419.5,166.9 423.5,176.1 427.5,185.0 431.5,193.5 435.5,201.3 439.5,208.2 443.5,214.2 445.0,216.0 446.5,217.7 448.0,219.2 449.5,220.4 451.0,221.4 452.5,222.1 454.0,222.5 455.5,222.6 457.0,222.5 458.5,222.1 460.0,221.4 461.5,220.4 463.0,219.2 464.5,217.7 466.0,216.0 467.5,214.2 471.5,208.2 475.5,201.3 479.5,193.5 483.5,185.0 487.5,176.1 491.5,166.9" stroke="#f7ab92"/>
<polyline points="419.5,164.2 423.5,173.8 427.5,183.0 431.5,191.8 435.5,199.9 439.5,207.2 443.5,213.4 445.0,215.4 446.5,217.2 448.0,218.7 449.5,220.0 451.0,221.0 452.5,221.7 454.0,222.2 455.5,222.3 457.0,222.2 458.5,221.7 460.0,221.0 461.5,220.0 463.0,218.7 464.5,217.2 466.0,215.4 467.5,213.4 471.5,207.2 475.5,199.9 479.5,191.8 483.5,183.0 487.5,173.8 491.5,164.2" stroke="#f6ab94"/>
<polyline points="423.5,171.3 427.5,180.9 431.5,190.1 435.5,198.5 439.5,206.2 443.5,212.7 445.0,214.8 446.5,216.6 448.0,218.2 449.5,219.6 451.0,220.7 452.5,221.4 454.0,221.9 455.5,222.1 457.0,221.9 458.5,221.4 460.0,220.7 461.5,219.6 463.0,218.2 464.5,216.6 466.0,214.8 467.5,212.7 471.5,206.2 475.5,198.5 479.5,190.1 483.5,180.9 487.5,171.3" stroke="#f6ac96"/>
<polyline points="423.5,168.8 427.5,178.8 431.5,188.3 435.5,197.1 439.5,205.1 443.5,211.9 445.0,214.1 446.5,216.1 448.0,217.8 449.5,219.2 451.0,220.3 452.5,221.1 454.0,221.6 455.5,221.8 457.0,221.6 458.5,221.1 460.0,220.3 461.5,219.2 463.0,217.8 464.5,216.1 466.0,214.1 467.5,211.9 471.5,205.1 475.5,197.1 479.5,188.3 483.5,178.8 487.5,168.8" stroke="#f6ac98"/>
<polyline points="423.5,166.2 427.5,176.6 431.5,186.5 435.5,195.7 439.5,204.0 443.5,211.1 445.0,213.4 446.5,215.5 448.0,217.3 449.5,218.8 451.0,220.0 452.5,220.8 454.0,221.4 455.5,221.5 457.0,221.4 458.5,220.8 460.0,220.0 461.5,218.8 463.0,217.3 464.5,215.5 466.0,213.4 467.5,211.1 471.5,204.0 475.5,195.7 479.5,186.5 483.5,176.6 487.5,166.2" stroke="#f6ad9b"/>
<polyline points="423.5,163.6 427.5,174.3 431.5,184.6 435.5,194.2 439.5,202.9 443.5,210.3 445.0,212.8 446.5,214.9 448.0,216.8 449.5,218.4 451.0,219.6 452.5,220.5 454.0,221.1 455.5,221.3 457.0,221.1 458.5,220.5 460.0,219.6 461.5,218.4 463.0,216.8 464.5,214.9 466.0,212.8 467.5,210.3 471.5,202.9 475.5,194.2 479.5,184.6 483.5,174.3 487.5,163.6" stroke="#f6ad9d"/>
<polyline points="427.5,172.0 431.5,182.6 435.5,192.6 439.5,201.7 443.5,209.5 445.0,212.1 446.5,214.3 448.0,216.3 449.5,218.0 451.0,219.3 452.5,220.3 454.0,220.8 455.5,221.0 457.0,220.8 458.5,220.3 460.0,219.3 461.5,218.0 463.0,216.3 464.5,214.3 466.0,212.1 467.5,209.5 471.5,201.7 475.5,192.6 479.5,182.6 483.5,172.0" stroke="#f6ae9f"/>
<polyline points="427.5,169.6 431.5,180.6 435.5,191.0 439.5,200.5 443.5,208.7 445.0,211.4 446.5,213.7 448.0,215.8 449.5,217.6 451.0,219.0 452.5,220.0 454.0,220.6 455.5,220.8 457.0,220.6 458.5,220.0 460.0,219.0 461.5,217.6 463.0,215.8 464.5,213.7 466.0,211.4 467.5,208.7 471.5,200.5 475.5,191.0 479.5,180.6 483.5,169.6" stroke="#f6ac9f"/>
<polyline points="427.5,167.1 431.5,178.6 435.5,189.4 439.5,199.3 443.5,207.8 445.0,210.6 446.5,213.1 448.0,215.3 449.5,217.2 451.0,218.6 452.5,219.7 454.0,220.4 455.5,220.6 457.0,220.4 458.5,219.7 460.0,218.6 461.5,217.2 463.0,215.3 464.5,213.1 466.0,210.6 467.5,207.8 471.5,199.3 475.5,189.4 479.5,178.6 483.5,167.1" stroke="#f6aa9d"/>
<polyline points="427.5,164.6 431.5,176.5 435.5,187.7 439.5,198.0 443.5,207.0 445.0,209.9 446.5,212.5 448.0,214.8 449.5,216.7 451.0,218.3 452.5,219.4 454.0,220.1 455.5,220.3 457.0,220.1 458.5,219.4 460.0,218.3 461.5,216.7 463.0,214.8 464.5,212.5 466.0,209.9 467.5,207.0 471.5,198.0 475.5,187.7 479.5,176.5 483.5,164.6" stroke="#f5a89c"/>
<polyline points="427.5,161.9 431.5,174.3 435.5,186.0 439.5,196.7 443.5,206.1 445.0,209.1 446.5,211.9 448.0,214.3 449.5,216.3 451.0,218.0 452.5,219.2 454.0,219.9 455.5,220.1 457.0,219.9 458.5,219.2 460.0,218.0 461.5,216.3 463.0,214.3 464.5,211.9 466.0,209.1 467.5,206.1 471.5,196.7 475.5,186.0 479.5,174.3 483.5,161.9" stroke="#f5a59a"/>
<polyline points="431.5,172.0 435.5,184.2 439.5,195.3 443.5,205.1 445.0,208.3 446.5,211.2 448.0,213.8 449.5,215.9 451.0,217.6 452.5,218.9 454.0,219.7 455.5,219.9 457.0,219.7 458.5,218.9 460.0,217.6 461.5,215.9 463.0,213.8 464.5,211.2 466.0,208.3 467.5,205.1 471.5,195.3 475.5,184.2 479.5,172.0" stroke="#f5a399"/>
<polyline points="431.5,169.7 435.5,182.3 439.5,194.0 443.5,204.2 445.0,207.5 446.5,210.6 448.0,213.2 449.5,215.5 451.0,217.3 452.5,218.6 454.0,219.5 455.5,219.7 457.0,219.5 458.5,218.6 460.0,217.3 461.5,215.5 463.0,213.2 464.5,210.6 466.0,207.5 467.5,204.2 471.5,194.0 475.5,182.3 479.5,169.7" stroke="#f4a197"/>
<polyline points="431.5,167.3 435.5,180.4 439.5,192.5 443.5,203.2 445.0,206.7 446.5,209.9 448.0,212.7 449.5,215.1 451.0,217.0 452.5,218.4 454.0,219.2 455.5,219.5 457.0,219.2 458.5,218.4 460.0,217.0 461.5,215.1 463.0,212.7 464.5,209.9 466.0,206.7 467.5,203.2 471.5,192.5 475.5,180.4 479.5,167.3" stroke="#f49e96"/>
<polyline points="431.5,164.8 435.5,178.4 439.5,191.0 443.5,202.2 445.0,205.9 446.5,209.2 448.0,212.2 449.5,214.7 451.0,216.7 452.5,218.1 454.0,219.0 455.5,219.3 457.0,219.0 458.5,218.1 460.0,216.7 461.5,214.7 463.0,212.2 464.5,209.2 466.0,205.9 467.5,202.2 471.5,191.0 475.5,178.4 479.5,164.8" stroke="#f49c94"/>
<polyline points="431.5,162.3 435.5,176.4 439.5,189.5 443.5,201.1 445.0,205.0 446.5,208.5 448.0,211.6 449.5,214.2 451.0,216.3 452.5,217.9 454.0,218.8 455.5,219.2 457.0,218.8 458.5,217.9 460.0,216.3 461.5,214.2 463.0,211.6 464.5,208.5 466.0,205.0 467.5,201.1 471.5,189.5 475.5,176.4 479.5,162.3" stroke="#f49a93"/>
<polyline points="431.5,159.6 435.5,174.3 439.5,187.9 443.5,200.1 445.0,204.1 446.5,207.8 448.0,211.0 449.5,213.8 451.0,216.0 452.5,217.6 454.0,218.7 455.5,219.0 457.0,218.7 458.5,217.6 460.0,216.0 461.5,213.8 463.0,211.0 464.5,207.8 466.0,204.1 467.5,200.1 471.5,187.9 475.5,174.3 479.5,159.6" stroke="#f39791"/>
<polyline points="435.5,172.1 439.5,186.3 443.5,199.0 445.0,203.2 446.5,207.0 448.0,210.4 449.5,213.3 451.0,215.7 452.5,217.4 454.0,218.5 455.5,218.8 457.0,218.5 458.5,217.4 460.0,215.7 461.5,213.3 463.0,210.4 464.5,207.0 466.0,203.2 467.5,199.0 471.5,186.3 475.5,172.1" stroke="#f39590"/>
<polyline points="435.5,169.9 439.5,184.6 443.5,197.8 445.0,202.2 446.5,206.2 448.0,209.8 449.5,212.9 451.0,215.3 452.5,217.2 454.0,218.3 455.5,218.7 457.0,218.3 458.5,217.2 460.0,215.3 461.5,212.9 463.0,209.8 464.5,206.2 466.0,202.2 467.5,197.8 471.5,184.6 475.5,169.9" stroke="#f3928d"/>
<polyline points="435.5,167.5 439.5,182.8 443.5,196.6 445.0,201.2 446.5,205.4 448.0,209.2 449.5,212.4 451.0,215.0 452.5,216.9 454.0,218.1 455.5,218.5 457.0,218.1 458.5,216.9 460.0,215.0 461.5,212.4 463.0,209.2 464.5,205.4 466.0,201.2 467.5,196.6 471.5,182.8 475.5,167.5" stroke="#f28f8a"/>
<polyline points="435.5,165.1 439.5,181.0 443.5,195.4 445.0,200.2 446.5,204.6 448.0,208.5 449.5,211.9 451.0,214.7 452.5,216.7 454.0,217.9 455.5,218.4 457.0,217.9 458.5,216.7 460.0,214.7 461.5,211.9 463.0,208.5 464.5,204.6 466.0,200.2 467.5,195.4 471.5,181.0 475.5,165.1" stroke="#f18b87"/>
<polyline points="435.5,162.7 439.5,179.2 443.5,194.1 445.0,199.1 446.5,203.8 448.0,207.9 449.5,211.4 451.0,214.3 452.5,216.4 454.0,217.8 455.5,218.2 457.0,217.8 458.5,216.4 460.0,214.3 461.5,211.4 463.0,207.9 464.5,203.8 466.0,199.1 467.5,194.1 471.5,179.2 475.5,162.7" stroke="#f08783"/>
<polyline points="435.5,160.1 439.5,177.2 443.5,192.8 445.0,198.0 446.5,202.9 448.0,207.2 449.5,210.9 451.0,214.0 452.5,216.2 454.0,217.6 455.5,218.1 457.0,217.6 458.5,216.2 460.0,214.0 461.5,210.9 463.0,207.2 464.5,202.9 466.0,198.0 467.5,192.8 471.5,177.2 475.5,160.1" stroke="#ef8480"/>
<polyline points="435.5,157.5 439.5,175.3 443.5,191.4 445.0,196.9 446.5,202.0 448.0,206.5 449.5,210.4 451.0,213.6 452.5,216.0 454.0,217.4 455.5,217.9 457.0,217.4 458.5,216.0 460.0,213.6 461.5,210.4 463.0,206.5 464.5,202.0 466.0,196.9 467.5,191.4 471.5,175.3 475.5,157.5" stroke="#ee807d"/>
<polyline points="435.5,154.7 439.5,173.2 443.5,190.0 445.0,195.7 446.5,201.0 448.0,205.8 449.5,209.9 451.0,213.2 452.5,215.7 454.0,217.3 455.5,217.8 457.0,217.3 458.5,215.7 460.0,213.2 461.5,209.9 463.0,205.8 464.5,201.0 466.0,195.7 467.5,190.0 471.5,173.2 475.5,154.7" stroke="#ed7d7a"/>
<polyline points="439.5,171.1 443.5,188.6 445.0,194.5 446.5,200.0 448.0,205.0 449.5,209.3 451.0,212.9 452.5,215.5 454.0,217.1 455.5,217.7 457.0,217.1 458.5,215.5 460.0,212.9 461.5,209.3 463.0,205.0 464.5,200.0 466.0,194.5 467.5,188.6 471.5,171.1" stroke="#ec7976"/>
<polyline points="439.5,168.8 443.5,187.1 445.0,193.3 446.5,199.0 448.0,204.2 449.5,208.8 451.0,212.5 452.5,215.3 454.0,217.0 455.5,217.6 457.0,217.0 458.5,215.3 460.0,212.5 461.5,208.8 463.0,204.2 464.5,199.0 466.0,193.3 467.5,187.1 471.5,168.8" stroke="#eb7573"/>
<polyline points="439.5,166.6 443.5,185.5 445.0,192.0 446.5,198.0 448.0,203.4 449.5,208.2 451.0,212.1 452.5,215.0 454.0,216.8 455.5,217.5 457.0,216.8 458.5,215.0 460.0,212.1 461.5,208.2 463.0,203.4 464.5,198.0 466.0,192.0 467.5,185.5 471.5,166.6" stroke="#ea7270"/>
<polyline points="439.5,164.2 443.5,183.9 445.0,190.6 446.5,196.9 448.0,202.6 449.5,207.6 451.0,211.7 452.5,214.8 454.0,216.7 455.5,217.4 457.0,216.7 458.5,214.8 460.0,211.7 461.5,207.6 463.0,202.6 464.5,196.9 466.0,190.6 467.5,183.9 471.5,164.2" stroke="#ea6e6c"/>
<polyline points="439.5,161.8 443.5,182.2 445.0,189.2 446.5,195.8 448.0,201.8 449.5,207.0 451.0,211.3 452.5,214.5 454.0,216.6 455.5,217.3 457.0,216.6 458.5,214.5 460.0,211.3 461.5,207.0 463.0,201.8 464.5,195.8 466.0,189.2 467.5,182.2 471.5,161.8" stroke="#e96b69"/>
<polyline points="439.5,159.3 443.5,180.5 445.0,187.8 446.5,194.6 448.0,200.9 449.5,206.3 451.0,210.9 452.5,214.3 454.0,216.4 455.5,217.2 457.0,216.4 458.5,214.3 460.0,210.9 461.5,206.3 463.0,200.9 464.5,194.6 466.0,187.8 467.5,180.5 471.5,159.3" stroke="#e86766"/>
<polyline points="439.5,156.7 443.5,178.7 445.0,186.3 446.5,193.4 448.0,199.9 449.5,205.7 451.0,210.4 452.5,214.0 454.0,216.3 455.5,217.1 457.0,216.3 458.5,214.0 460.0,210.4 461.5,205.7 463.0,199.9 464.5,193.4 466.0,186.3 467.5,178.7 471.5,156.7" stroke="#e76362"/>
<polyline points="439.5,154.0 443.5,176.8 445.0,184.8 446.5,192.2 448.0,199.0 449.5,205.0 451.0,210.0 452.5,213.8 454.0,216.2 455.5,217.0 457.0,216.2 458.5,213.8 460.0,210.0 461.5,205.0 463.0,199.0 464.5,192.2 466.0,184.8 467.5,176.8 471.5,154.0" stroke="#e6605f"/>
<polyline points="439.5,151.2 443.5,174.9 445.0,183.2 446.5,190.9 448.0,198.0 449.5,204.3 451.0,209.5 452.5,213.5 454.0,216.1 455.5,216.9 457.0,216.1 458.5,213.5 460.0,209.5 461.5,204.3 463.0,198.0 464.5,190.9 466.0,183.2 467.5,174.9 471.5,151.2" stroke="#e55c5c"/>
<polyline points="439.5,148.3 443.5,172.9 445.0,181.5 446.5,189.6 448.0,197.0 449.5,203.6 451.0,209.1 452.5,213.3 454.0,215.9 455.5,216.8 457.0,215.9 458.5,213.3 460.0,209.1 461.5,203.6 463.0,197.0 464.5,189.6 466.0,181.5 467.5,172.9 471.5,148.3" stroke="#e45959"/>
<polyline points="443.5,170.8 445.0,179.8 446.5,188.2 448.0,195.9 449.5,202.8 451.0,208.6 452.5,213.0 454.0,215.8 455.5,216.8 457.0,215.8 458.5,213.0 460.0,208.6 461.5,202.8 463.0,195.9 464.5,188.2 466.0,179.8 467.5,170.8" stroke="#df4f50"/>
<polyline points="443.5,168.7 445.0,178.0 446.5,186.7 448.0,194.8 449.5,202.0 451.0,208.1 452.5,212.8 454.0,215.7 455.5,216.7 457.0,215.7 458.5,212.8 460.0,208.1 461.5,202.0 463.0,194.8 464.5,186.7 466.0,178.0 467.5,168.7" stroke="#d84447"/>
<polyline points="443.5,166.5 445.0,176.1 446.5,185.2 448.0,193.7 449.5,201.2 451.0,207.6 452.5,212.5 454.0,215.6 455.5,216.7 457.0,215.6 458.5,212.5 460.0,207.6 461.5,201.2 463.0,193.7 464.5,185.2 466.0,176.1 467.5,166.5" stroke="#d2393e"/>
<polyline points="443.5,164.2 445.0,174.2 446.5,183.7 448.0,192.5 449.5,200.3 451.0,207.0 452.5,212.2 454.0,215.5 455.5,216.6 457.0,215.5 458.5,212.2 460.0,207.0 461.5,200.3 463.0,192.5 464.5,183.7 466.0,174.2 467.5,164.2" stroke="#cb2d34"/>
<polyline points="445.0,172.2 446.5,182.1 448.0,191.2 449.5,199.5 451.0,206.5 452.5,211.9 454.0,215.4 455.5,216.6 457.0,215.4 458.5,211.9 460.0,206.5 461.5,199.5 463.0,191.2 464.5,182.1 466.0,172.2" stroke="#c5222b"/>
<polyline points="445.0,170.2 446.5,180.4 448.0,189.9 449.5,198.5 451.0,205.9 452.5,211.6 454.0,215.3 455.5,216.5 457.0,215.3 458.5,211.6 460.0,205.9 461.5,198.5 463.0,189.9 464.5,180.4 466.0,170.2" stroke="#ba1620"/>
<polyline points="445.0,168.0 446.5,178.7 448.0,188.6 449.5,197.6 451.0,205.3 452.5,211.3 454.0,215.2 455.5,216.5 457.0,215.2 458.5,211.3 460.0,205.3 461.5,197.6 463.0,188.6 464.5,178.7 466.0,168.0" stroke="#a40812"/>
<circle cx="455.5" cy="157.5" r="128.7" stroke="#f0f370" clip-path="url(#cebelow)"/>
<circle cx="455.5" cy="159.0" r="135.8" stroke="#f0f370" clip-path="url(#cebelow)"/>
<circle cx="455.5" cy="165.4" r="140.5" stroke="#f0f370" clip-path="url(#cebelow)"/>
<circle cx="455.5" cy="171.6" r="145.4" stroke="#f0f370" clip-path="url(#cebelow)"/>
<circle cx="455.5" cy="178.8" r="149.7" stroke="#f0f370" clip-path="url(#cebelow)"/>
<circle cx="455.5" cy="187.1" r="153.4" stroke="#f0f370" clip-path="url(#cebelow)"/>
</g>
<circle cx="456" cy="216.8" r="7.5" fill="url(#apg)"/>
<path d="M444.6 177.6H467.8L456.2 216.6Z" fill="#fff"/>
<path d="M437.3 247.5A18.4 26.2 0 0 1 474 247.5Z" fill="url(#npg)" stroke="#666" stroke-width="0.55"/>
<path d="M441 243.5Q455.5 249.5 470.5 243.5M439.5 245.8Q455.5 251 472 245.8" fill="none" stroke="#f3e98a" stroke-width="0.6"/>
<path d="M374.5 247.5H437.3M474 247.5H536" stroke="#bdbdbd" stroke-width="1.1"/>
<rect x="374.5" y="178.6" width="161.5" height="138.00000000000003" fill="none" stroke="#d9d9d9" stroke-width="0.6"/>
<path d="M456 222H490.5" stroke="#333" stroke-width="0.65" stroke-dasharray="2.6 1.5"/>
<path d="M479.3 223V246.5" stroke="#222" stroke-width="0.6"/>
<path d="M478 225L479.3 222.2L480.6 225ZM478 244.5L479.3 247.3L480.6 244.5Z" fill="#222"/>
<text class="sf" x="482.6" y="237.6" font-size="8.6" font-weight="bold" font-style="italic" fill="#111">h</text>
<path d="M438 251.8H473.5" stroke="#222" stroke-width="0.65"/>
<path d="M437 251.8L438.5 250.5L440 251.8L438.5 253.1ZM471.3 251.8L472.8 250.5L474.3 251.8L472.8 253.1Z" fill="#222"/>
<text class="sf" x="455.5" y="262.0" font-size="8.5" font-weight="normal" font-style="italic" fill="#111" text-anchor="middle">2r</text>
<text class="ss" x="371.5" y="187.9" font-size="7.3" font-weight="normal" font-style="normal" fill="#111" text-anchor="end" stroke="#111" stroke-width="0.3">500</text>
<text class="ss" x="371.5" y="219.0" font-size="7.3" font-weight="normal" font-style="normal" fill="#111" text-anchor="end" stroke="#111" stroke-width="0.3">250</text>
<text class="ss" x="371.5" y="250.1" font-size="7.3" font-weight="normal" font-style="normal" fill="#111" text-anchor="end" stroke="#111" stroke-width="0.3">0</text>
<text class="ss" x="371.5" y="281.2" font-size="7.3" font-weight="normal" font-style="normal" fill="#111" text-anchor="end" stroke="#111" stroke-width="0.3">-250</text>
<text class="ss" x="371.5" y="312.3" font-size="7.3" font-weight="normal" font-style="normal" fill="#111" text-anchor="end" stroke="#111" stroke-width="0.3">-500</text>
<text class="ss" x="384.3" y="326.0" font-size="7.3" font-weight="normal" font-style="normal" fill="#111" text-anchor="middle" stroke="#111" stroke-width="0.3">-1000</text>
<text class="ss" x="421.2" y="326.0" font-size="7.3" font-weight="normal" font-style="normal" fill="#111" text-anchor="middle" stroke="#111" stroke-width="0.3">-500</text>
<text class="ss" x="455.6" y="326.0" font-size="7.3" font-weight="normal" font-style="normal" fill="#111" text-anchor="middle" stroke="#111" stroke-width="0.3">0</text>
<text class="ss" x="492.3" y="326.0" font-size="7.3" font-weight="normal" font-style="normal" fill="#111" text-anchor="middle" stroke="#111" stroke-width="0.3">500</text>
<text class="ss" x="527.8" y="326.0" font-size="7.3" font-weight="normal" font-style="normal" fill="#111" text-anchor="middle" stroke="#111" stroke-width="0.3">1000</text>
<text class="ss" x="456.6" y="337.2" font-size="9.2" font-weight="bold" fill="#111" text-anchor="middle"><tspan font-style="italic">r</tspan> (nm)</text>
<text class="ss" transform="translate(350.6,247.5) rotate(-90)" font-size="8.5" font-weight="bold" fill="#111" text-anchor="middle"><tspan font-style="italic">z</tspan> (nm)</text>
</svg>
</body></html>
